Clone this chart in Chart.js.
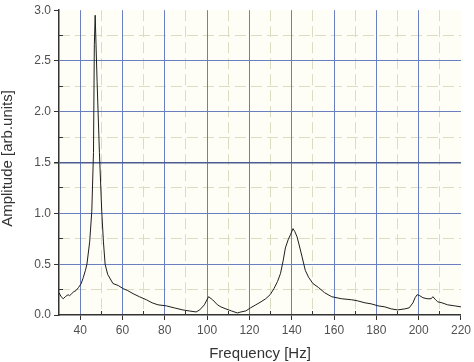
<!DOCTYPE html>
<html>
<head>
<meta charset="utf-8">
<script src="https://cdn.jsdelivr.net/npm/chart.js@4"></script>
<style>
  html, body { margin: 0; padding: 0; background: #fff; }
  #wrap { width: 474px; height: 362px; }
</style>
</head>
<body>
<div id="wrap"><canvas id="chart" width="474" height="362"></canvas></div>
<script>
// spectrum
const freq = [30, 31, 32, 33, 34.3, 35, 36, 37, 38, 39.2, 40.5, 41.5, 42.5, 43.2, 44.5, 45.5, 46.3, 46.7, 47.1, 48.0,
  49.1, 50.2, 51.0, 51.8, 53, 55.5, 58, 60.3, 62.5, 65, 68, 71.3, 74, 76.8, 80.7, 84.5, 88.5, 91.5, 94.8, 96.5,
  98.7, 100.7, 102.6, 104.9, 106.5, 108.9, 111.5, 114.3, 116, 118.3, 120.5, 123, 125.5, 127.7, 129.8, 131.6, 133.3,
  134.7, 136, 137, 138.3, 139.4, 140.6, 141.5, 142.5, 143.5, 144.8, 146.4, 148, 150, 152.7, 155.5, 158.9, 163.5,
  168.3, 171, 174.6, 177.5, 180.8, 184, 187.1, 190, 193.4, 195.5, 197.3, 198.3, 199.3, 200.5, 202, 204, 205.9,
  206.7, 208, 209, 211, 213.7, 217, 220];
const amplitude = [0.22, 0.18, 0.16, 0.18, 0.20, 0.19, 0.21, 0.23, 0.24, 0.27, 0.31, 0.37, 0.44, 0.50, 0.72, 1.02, 1.60, 2.66, 2.95, 2.30,
  1.60, 1.02, 0.72, 0.50, 0.40, 0.31, 0.29, 0.26, 0.24, 0.21, 0.18, 0.15, 0.12, 0.10, 0.09, 0.07, 0.05, 0.04, 0.03, 0.05,
  0.10, 0.18, 0.15, 0.10, 0.08, 0.06, 0.04, 0.02, 0.03, 0.04, 0.07, 0.10, 0.13, 0.16, 0.20, 0.26, 0.33,
  0.41, 0.54, 0.66, 0.74, 0.79, 0.85, 0.82, 0.77, 0.69, 0.58, 0.44, 0.37, 0.31, 0.27, 0.22, 0.18, 0.16,
  0.15, 0.14, 0.12, 0.11, 0.09, 0.08, 0.06, 0.05, 0.06, 0.07, 0.12, 0.17, 0.20, 0.19, 0.17, 0.16, 0.16,
  0.18, 0.15, 0.13, 0.12, 0.10, 0.09, 0.08];

const xMin = 30, xMax = 220;
const yMin = 0, yMax = 3;
const majorX = 20, minorX = 10;
const majorY = 0.5, minorY = 0.25;

const points = freq.map((f, i) => ({ x: f, y: amplitude[i] }));

const majorColor = '#6a7fc0';
const minorColor = '#dcdcc2';
const clear = 'rgba(0,0,0,0)';
const font = 'Liberation Sans, Arial, sans-serif';

const plotBg = {
  id: 'plotBg',
  beforeDraw(chart) {
    const a = chart.chartArea;
    const ctx = chart.ctx;
    ctx.save();
    ctx.fillStyle = '#fefef7';
    ctx.fillRect(a.left, a.top, a.right - a.left, a.bottom - a.top);
    ctx.restore();
  }
};

const isMult = (v, s) => Math.abs(v / s - Math.round(v / s)) < 1e-6;

new Chart(document.getElementById('chart'), {
  type: 'line',
  data: {
    datasets: [{
      data: points,
      borderColor: '#1e1e1e',
      borderWidth: 1,
      pointRadius: 0,
      tension: 0,
      fill: false
    }]
  },
  options: {
    responsive: false,
    animation: false,
    layout: { padding: { top: 5, right: 11, left: 0, bottom: 0 } },
    plugins: { legend: { display: false }, tooltip: { enabled: false } },
    scales: {
      // minor grid (dashed) + small inward ticks
      x2: {
        type: 'linear', position: 'bottom', weight: -1, min: xMin, max: xMax,
        ticks: { display: false, stepSize: minorX },
        grid: {
          tickLength: -4,
          tickColor: ctx => isMult(ctx.tick.value, majorX) || ctx.tick.value === xMin ? clear : '#333',
          color: ctx => isMult(ctx.tick.value, majorX) || ctx.tick.value === xMin || ctx.tick.value === xMax ? clear : minorColor
        },
        border: { display: false, dash: [11, 5] },
        afterFit: s => { s.height = 0; }
      },
      y2: {
        type: 'linear', position: 'left', weight: -1, min: yMin, max: yMax,
        ticks: { display: false, stepSize: minorY },
        grid: {
          tickLength: -4,
          tickColor: ctx => isMult(ctx.tick.value, majorY) ? clear : '#333',
          color: ctx => isMult(ctx.tick.value, majorY) ? clear : minorColor
        },
        border: { display: false, dash: [11, 5] },
        afterFit: s => { s.width = 0; }
      },
      x: {
        type: 'linear', position: 'bottom', min: xMin, max: xMax,
        ticks: {
          stepSize: majorX,
          autoSkip: false, maxRotation: 0, padding: 3,
          color: '#505050',
          font: { family: font, size: 12 },
          callback: v => (v >= 40 && isMult(v, majorX)) ? String(v) : ''
        },
        grid: {
          tickLength: 5,
          tickColor: ctx => ctx.tick.value === xMin ? clear : '#333',
          lineWidth: 1,
          color: ctx => (ctx.tick.value === xMin || ctx.tick.value === xMax) ? clear : majorColor
        },
        border: { display: true, color: '#333', width: 1.5 },
        title: {
          display: true, text: 'Frequency [Hz]', color: '#333',
          font: { family: font, size: 15, lineHeight: 1.1 },
          padding: 0
        },
        afterFit: s => { s.height = 47; }
      },
      y: {
        type: 'linear', position: 'left', min: yMin, max: yMax,
        ticks: {
          stepSize: majorY, padding: 3,
          color: '#505050',
          font: { family: font, size: 12 },
          callback: v => v.toFixed(1)
        },
        grid: {
          tickLength: 5,
          tickColor: '#333',
          lineWidth: ctx => ctx.tick.value === 1.5 ? 1.5 : 1,
          color: ctx => (ctx.tick.value === yMin || ctx.tick.value === yMax) ? clear
            : (ctx.tick.value === 1.5 ? '#4a5c92' : majorColor)
        },
        border: { display: true, color: '#333', width: 1.5 },
        title: {
          display: true, text: '  Amplitude [arb.units]', color: '#333',
          font: { family: font, size: 15, lineHeight: 1.1 },
          padding: 0
        },
        afterFit: s => { s.width = 59; }
      }
    }
  },
  plugins: [plotBg]
});
</script>
</body>
</html>
